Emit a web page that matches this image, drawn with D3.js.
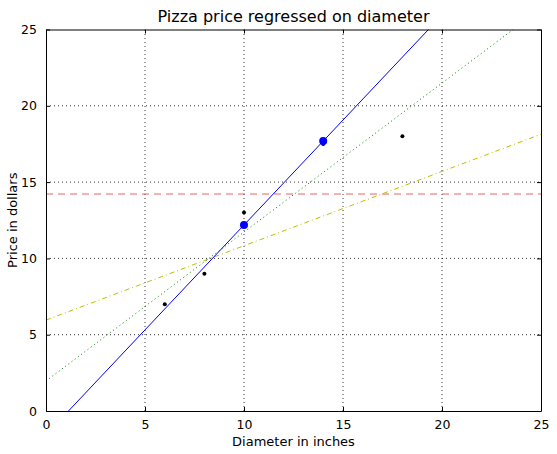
<!DOCTYPE html>
<html>
<head>
<meta charset="utf-8">
<script src="https://cdn.jsdelivr.net/npm/d3@7"></script>
<style>
  body { margin: 0; background: #fff; }
  svg { font-family: "DejaVu Sans", sans-serif; }
</style>
</head>
<body>
<div id="chart"></div>
<script>
// training data
const diameters = [6, 8, 10, 14, 18];
const prices = [7, 9, 13, 17.5, 18];
// predicted points (big blue dots)
const predX = [10, 14];
const predY = [12.19, 17.69];
// fitted lines, [intercept, slope]
const fitBlue = [-1.56, 1.375];
const fitGreen = [1.97, 0.976];
const fitYellow = [5.96, 0.487];
const meanPrice = 14.22;
const xTicks = [0, 5, 10, 15, 20, 25];
const yTicks = [0, 5, 10, 15, 20, 25];

const width = 557, height = 454;
const margin = {top: 29.5, right: 16, bottom: 43, left: 46};

const svg = d3.select("#chart").append("svg").attr("width", width).attr("height", height);

const x = d3.scaleLinear().domain([0, 25]).range([margin.left, width - margin.right]);
const y = d3.scaleLinear().domain([0, 25]).range([height - margin.bottom, margin.top]);

svg.append("defs").append("clipPath").attr("id", "clip")
  .append("rect")
  .attr("x", margin.left).attr("y", margin.top)
  .attr("width", x(25) - x(0)).attr("height", y(0) - y(25));

// grid
const grid = svg.append("g").attr("stroke", "#000").attr("stroke-width", 0.8).attr("stroke-dasharray", "1,3");
grid.selectAll("line.gx").data(xTicks.slice(1, -1)).enter().append("line")
  .attr("x1", d => x(d)).attr("x2", d => x(d)).attr("y1", y(0)).attr("y2", y(25));
grid.selectAll("line.gy").data(yTicks.slice(1, -1)).enter().append("line")
  .attr("x1", x(0)).attr("x2", x(25)).attr("y1", d => y(d)).attr("y2", d => y(d));

const plot = svg.append("g").attr("clip-path", "url(#clip)");

const lineFor = f => [[0, f[0]], [25, f[0] + 25 * f[1]]];
const ln = d3.line().x(d => x(d[0])).y(d => y(d[1]));

plot.append("path").attr("d", ln([[0, meanPrice], [25, meanPrice]]))
  .attr("fill", "none").attr("stroke", "#e04040").attr("stroke-opacity", 0.8)
  .attr("stroke-width", 1.2).attr("stroke-dasharray", "7,5");
plot.append("path").attr("d", ln(lineFor(fitYellow)))
  .attr("fill", "none").attr("stroke", "#bfbf00").attr("stroke-width", 1)
  .attr("stroke-dasharray", "5,3,1,3");
plot.append("path").attr("d", ln(lineFor(fitGreen)))
  .attr("fill", "none").attr("stroke", "#008000").attr("stroke-width", 1)
  .attr("stroke-dasharray", "1,3");
plot.append("path").attr("d", ln(lineFor(fitBlue)))
  .attr("fill", "none").attr("stroke", "#0000ff").attr("stroke-width", 1);

plot.selectAll("circle.train").data(diameters).enter().append("circle")
  .attr("cx", d => x(d)).attr("cy", (d, i) => y(prices[i])).attr("r", 2).attr("fill", "#000");
plot.selectAll("circle.pred").data(predX).enter().append("circle")
  .attr("cx", d => x(d)).attr("cy", (d, i) => y(predY[i])).attr("r", 4).attr("fill", "#0000ff");

// axes, classic inward ticks
const tickSize = -4;
svg.append("g").attr("transform", `translate(0,${y(0)})`)
  .call(d3.axisBottom(x).tickValues(xTicks).tickSize(tickSize).tickPadding(9).tickSizeOuter(0));
svg.append("g").attr("transform", `translate(0,${y(25)})`)
  .call(d3.axisTop(x).tickValues(xTicks).tickSize(tickSize).tickFormat("").tickSizeOuter(0));
svg.append("g").attr("transform", `translate(${x(0)},0)`)
  .call(d3.axisLeft(y).tickValues(yTicks).tickSize(tickSize).tickPadding(9).tickSizeOuter(0));
svg.append("g").attr("transform", `translate(${x(25)},0)`)
  .call(d3.axisRight(y).tickValues(yTicks).tickSize(tickSize).tickFormat("").tickSizeOuter(0));
svg.selectAll(".domain").attr("stroke", "#000");
svg.selectAll(".tick text").attr("font-size", 12.5).attr("fill", "#000").attr("font-family", "DejaVu Sans");

svg.append("text").attr("x", (x(0) + x(25)) / 2).attr("y", 22).attr("text-anchor", "middle")
  .attr("font-size", 16).text("Pizza price regressed on diameter");
svg.append("text").attr("x", (x(0) + x(25)) / 2).attr("y", 446).attr("text-anchor", "middle")
  .attr("font-size", 13).text("Diameter in inches");
svg.append("text").attr("transform", `translate(17,${(y(0) + y(25)) / 2}) rotate(-90)`)
  .attr("text-anchor", "middle").attr("font-size", 13).text("Price in dollars");
</script>
</body>
</html>
